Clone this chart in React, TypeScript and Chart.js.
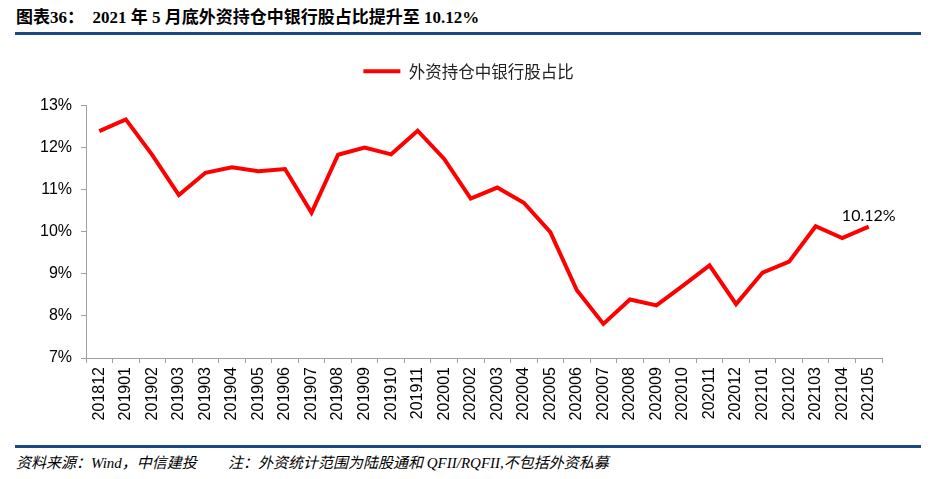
import React, { useEffect, useRef } from "react";
import { Chart, registerables } from "chart.js";

Chart.register(...registerables);

// Month labels (the source table repeats 201903)
const months: string[] = [
  "201812", "201901", "201902", "201903", "201903", "201904", "201905", "201906",
  "201907", "201908", "201909", "201910", "201911", "202001", "202002", "202003",
  "202004", "202005", "202006", "202007", "202008", "202009", "202010", "202011",
  "202012", "202101", "202102", "202103", "202104", "202105",
];

// Share of bank stocks in foreign holdings, %
const bankShare: number[] = [
  12.39, 12.67, 11.82, 10.87, 11.40, 11.53, 11.44, 11.49,
  10.45, 11.83, 12.00, 11.84, 12.40, 11.73, 10.79, 11.05,
  10.69, 9.99, 8.61, 7.81, 8.39, 8.25, 8.72, 9.20,
  8.28, 9.03, 9.29, 10.13, 9.85, 10.12,
];

const seriesName = "外资持仓中银行股占比";
const yTicks = { min: 7, max: 13, step: 1 };

const titleText = "图表36：  2021 年 5 月底外资持仓中银行股占比提升至 10.12%";
const sourceText = "资料来源：Wind，中信建投";
const noteText = "注：外资统计范围为陆股通和 QFII/RQFII,不包括外资私募";

const RED = "#ff0000";
const NAVY = "#164a80";
const AXIS = "#a0a0a0";

// Writes the latest value above its point
const lastValueLabel = {
  id: "lastValueLabel",
  afterDatasetsDraw(chart: any) {
    const meta = chart.getDatasetMeta(0);
    const data = chart.data.datasets[0].data as number[];
    const i = data.length - 1;
    const pt = meta.data[i];
    if (!pt) return;
    const ctx = chart.ctx;
    ctx.save();
    ctx.font = "16px Lato, 'Liberation Sans', sans-serif";
    ctx.fillStyle = "#000";
    ctx.textAlign = "center";
    ctx.textBaseline = "bottom";
    ctx.fillText(data[i].toFixed(2) + "%", pt.x, pt.y - 3);
    ctx.restore();
  },
};

// Extra room between the legend and the plot, and legend centred on the full canvas
const legendPlacement = {
  id: "legendPlacement",
  beforeInit(chart: any) {
    const legend = chart.legend;
    if (!legend) return;
    const fit = legend.fit;
    legend.fit = function () {
      fit.call(this);
      this.height += 16;
    };
  },
  afterLayout(chart: any) {
    const legend = chart.legend;
    if (!legend) return;
    legend.left = 0;
    legend.right = chart.width;
  },
};

export default function App() {
  const ref = useRef<HTMLCanvasElement>(null);

  useEffect(() => {
    if (!ref.current) return;
    const chart = new Chart(ref.current, {
      type: "line",
      data: {
        labels: months,
        datasets: [
          {
            label: seriesName,
            data: bankShare,
            borderColor: RED,
            backgroundColor: RED,
            borderWidth: 4,
            pointRadius: 0,
            tension: 0,
          },
        ],
      },
      options: {
        responsive: false,
        animation: false,
        layout: { padding: { left: 0, right: 55, top: 11, bottom: 0 } },
        plugins: {
          legend: {
            display: true,
            position: "top",
            labels: {
              usePointStyle: true,
              pointStyle: "line",
              pointStyleWidth: 37,
              padding: 10,
              color: "#222",
              font: { family: "'Noto Sans CJK SC', sans-serif", size: 16.5 },
            },
          },
          tooltip: { enabled: false },
        },
        scales: {
          x: {
            offset: true,
            grid: {
              offset: true,
              drawOnChartArea: false,
              color: AXIS,
              tickLength: 5,
            },
            border: { color: AXIS, width: 1 },
            ticks: {
              autoSkip: false,
              minRotation: 90,
              maxRotation: 90,
              padding: 4,
              color: "#000",
              font: { family: "'Liberation Sans', Arial, sans-serif", size: 16 },
            },
            afterFit(scale: any) {
              scale.height = 84;
            },
          },
          y: {
            min: yTicks.min,
            max: yTicks.max,
            grid: { drawOnChartArea: false, color: AXIS, tickLength: 5 },
            border: { color: AXIS, width: 1 },
            ticks: {
              stepSize: yTicks.step,
              padding: 9,
              color: "#000",
              font: { family: "'Liberation Sans', Arial, sans-serif", size: 16 },
              callback: (v: any) => v + "%",
            },
            afterFit(scale: any) {
              scale.width = 86;
            },
          },
        },
      },
      plugins: [legendPlacement, lastValueLabel],
    });
    return () => chart.destroy();
  }, []);

  return (
    <div
      style={{
        position: "absolute",
        left: 0,
        top: 0,
        width: 937,
        height: 479,
        background: "#fff",
        overflow: "hidden",
      }}
    >
      <div
        style={{
          position: "absolute",
          left: 16,
          top: 8,
          fontFamily: "'Liberation Serif', 'Noto Sans CJK SC', serif",
          fontWeight: "bold",
          fontSize: 17,
          lineHeight: "20px",
          whiteSpace: "pre",
          color: "#000",
        }}
      >
        {titleText}
      </div>
      <div
        style={{ position: "absolute", left: 15, top: 32, width: 906, height: 3, background: NAVY }}
      />
      <canvas
        ref={ref}
        width={937}
        height={400}
        style={{ position: "absolute", left: 0, top: 42, width: 937, height: 400 }}
      />
      <div
        style={{ position: "absolute", left: 15, top: 445, width: 906, height: 3, background: NAVY }}
      />
      <div
        style={{
          position: "absolute",
          left: 16,
          top: 454,
          fontFamily: "'Liberation Serif', 'Noto Sans CJK SC', serif",
          fontStyle: "italic",
          fontSize: 15,
          lineHeight: "18px",
          whiteSpace: "pre",
          color: "#000",
        }}
      >
        <span>{sourceText}</span>
        <span style={{ position: "absolute", left: 212, top: 0 }}>{noteText}</span>
      </div>
    </div>
  );
}
